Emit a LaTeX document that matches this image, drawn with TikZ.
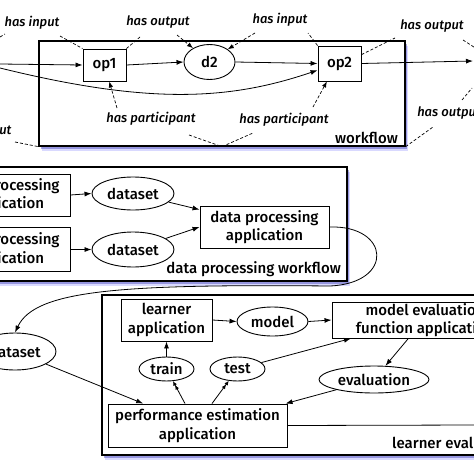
\documentclass[tikz,border=0pt]{standalone}
\usepackage{fontspec}
\setmainfont{Fira Sans}[UprightFont={* Medium},ItalicFont={* Medium Italic},BoldFont={* SemiBold}]
\usetikzlibrary{arrows.meta,shadows,shapes.geometric}
\newcommand\mainsz{\fontsize{15}{18.5}\selectfont}
\newcommand\labsz{\fontsize{13}{15}\selectfont}
\begin{document}
\begin{tikzpicture}[x=1pt,y=-1pt,
  every node/.style={font=\mainsz},
  box/.style={draw,line width=0.9pt,inner sep=0pt,align=center,fill=white},
  ell/.style={draw,ellipse,line width=0.9pt,inner sep=0pt,fill=white},
  cont/.style={draw,line width=1.3pt,fill=white,inner sep=0pt,
    drop shadow={shadow xshift=3pt,shadow yshift=-5pt,fill=blue!25!white,opacity=.6},
    drop shadow={shadow xshift=1.5pt,shadow yshift=-2.5pt,fill=blue!45!gray,opacity=.45}},
  lab/.style={font=\labsz\itshape,inner sep=0pt},
  ctl/.style={inner sep=0pt},
  arr/.style={-{Latex[length=7pt,width=5pt]},line width=0.8pt},
  dl/.style={dash pattern=on 3pt off 2pt,line width=0.7pt},
  dla/.style={dl,-{Latex[length=6pt,width=4.5pt]}},
  darr/.style={-{Latex[length=4.5pt,width=4pt]Latex[length=4.5pt,width=4pt]},line width=0.8pt},
]
\useasboundingbox (0,0) rectangle (474,474);
\clip (0,0) rectangle (474,474);

% ---------- containers ----------
\node[cont,minimum width=366pt,minimum height=105pt] (wf) at (222,93.5) {};
\node[cont,minimum width=407pt,minimum height=114pt] (dpw) at (143.5,224) {};
\node[cont,minimum width=430pt,minimum height=160pt] (lev) at (317,375) {};

\node[ctl,anchor=east] (wflab) at (398,138) {workflow};
\node[ctl,anchor=east] (dpwlab) at (341,269) {data processing workflow};
\node[ctl,anchor=west] (levlab) at (392,443) {learner evaluation};

% ---------- top workflow ----------
\node[box,minimum width=43pt,minimum height=32pt] (op1) at (104.5,65) {op1};
\node[ell,minimum width=51pt,minimum height=35pt] (d2) at (209.5,62) {d2};
\node[box,minimum width=43pt,minimum height=35pt] (op2) at (339.5,63.5) {op2};

\coordinate (in1) at (0,64);
\coordinate (in2) at (0,68);
\coordinate (out1) at (473,61);

\draw[arr] (in1) -- (op1.west);
\draw[arr] (op1.east) -- (d2.west);
\draw[arr] (d2.east) -- (op2.west);
\draw[arr] (op2.east) -- (out1);
\draw[arr] (in2) .. controls (150,105) and (230,100) .. (op2.197);

% labels
\node[lab] (hi1) at (32,23) {has input};
\node[lab] (ho1) at (158,22) {has output};
\node[lab] (hi2) at (280,20) {has input};
\node[lab] (ho2) at (432,26) {has output};
\node[lab] (hp1) at (151,119) {has participant};
\node[lab] (hp2) at (284,120) {has participant};
\node[lab] (ho3) at (449,113) {has output};
\node[lab] (hi3) at (-16,131) {has input};

\coordinate (a0) at (0,37);   \coordinate (a0b) at (5,34);
\coordinate (a1) at (60,36);
\coordinate (b1) at (140,37); \coordinate (b2) at (177,35);
\coordinate (c1) at (308,33); \coordinate (c2) at (255,33);
\coordinate (e1) at (395,38); \coordinate (e2) at (463,40); \coordinate (e3) at (480,51);
\coordinate (f1) at (117,108);
\coordinate (g1) at (313,107);
\coordinate (v1) at (189,135); \coordinate (v2) at (253,133);
\coordinate (h1) at (433,127); \coordinate (h2) at (462,100); \coordinate (h3) at (472,88);
\coordinate (k1) at (15,142);

\draw[dl] (a0) -- (a0b);
\draw[dl] (a1) -- (op1.north west);
\draw[dl] (op1.north east) -- (b1);
\draw[dla] (b2) -- (d2.140);
\draw[dl] (op2.north west) -- (c1);
\draw[dla] (c2) -- (d2.35);
\draw[dl] (op2.22) -- (e1);
\draw[dl] (e2) -- (e3);
\draw[dla] (f1) -- (op1.286);
\draw[dla] (g1) -- (op2.235);
\draw[dl] (v1) -- (wf.south) -- (v2);
\draw[dl] (wf.south east) -- (h1);
\draw[dl] (h2) -- (h3);
\draw[dl] (k1) -- (wf.south west);

% ---------- data processing workflow ----------
\node[box,minimum width=129pt,minimum height=42pt] (dpa1) at (5.5,195) {data processing\\application};
\node[box,minimum width=129pt,minimum height=44pt] (dpa2) at (5.5,249.5) {data processing\\application};
\node[ell,minimum width=82pt,minimum height=33pt] (ds1) at (133,193.5) {dataset};
\node[ell,minimum width=82pt,minimum height=35pt] (ds2) at (133,249.5) {dataset};
\node[box,minimum width=129pt,minimum height=42pt] (dp) at (264.5,227) {data processing\\application};

\draw[arr] (dpa1.east) -- (ds1.west);
\draw[arr] (dpa2.east) -- (ds2.west);
\draw[arr] (ds1) -- (dp.165);
\draw[arr] (ds2) -- (dp.west);

% ---------- learner evaluation ----------
\node[ell,minimum width=82pt,minimum height=37pt] (ds3) at (15,351.5) {dataset};
\node[box,minimum width=91pt,minimum height=42pt] (la) at (166.5,320) {learner\\application};
\node[ell,minimum width=71pt,minimum height=29pt] (model) at (272.5,321.5) {model};
\node[box,minimum width=186pt,minimum height=36pt] (mefa) at (425,320) {model evaluation\\function application};
\node[ell,minimum width=55pt,minimum height=24pt] (train) at (166.5,369) {train};
\node[ell,minimum width=55pt,minimum height=24pt] (test) at (237.5,369) {test};
\node[ell,minimum width=110pt,minimum height=27pt] (eval) at (374,379.5) {evaluation};
\node[box,minimum width=179pt,minimum height=43pt] (perf) at (197.5,425.5) {performance estimation\\application};

\coordinate (pout) at (476,425);

\draw[arr] (dp.east) .. controls (390,225) and (395,283) .. (330,286)
  .. controls (120,284) and (35,290) .. (ds3.north);
\draw[arr] (la.east) -- (model.west);
\draw[arr] (model.east) -- (mefa.west);
\draw[arr] (test) -- (mefa.194);
\draw[arr] (mefa.228) -- (eval);
\draw[arr] (eval) -- (perf.14);
\draw[arr] (train.north) -- (la.south);
\draw[darr] (perf.north -| 185,0) -- (train);
\draw[darr] (perf.north -| 212,0) -- (test);
\draw[arr] (ds3) -- (perf.158);
\draw[line width=0.8pt] (perf.east) -- (pout);
\end{tikzpicture}
\end{document}
